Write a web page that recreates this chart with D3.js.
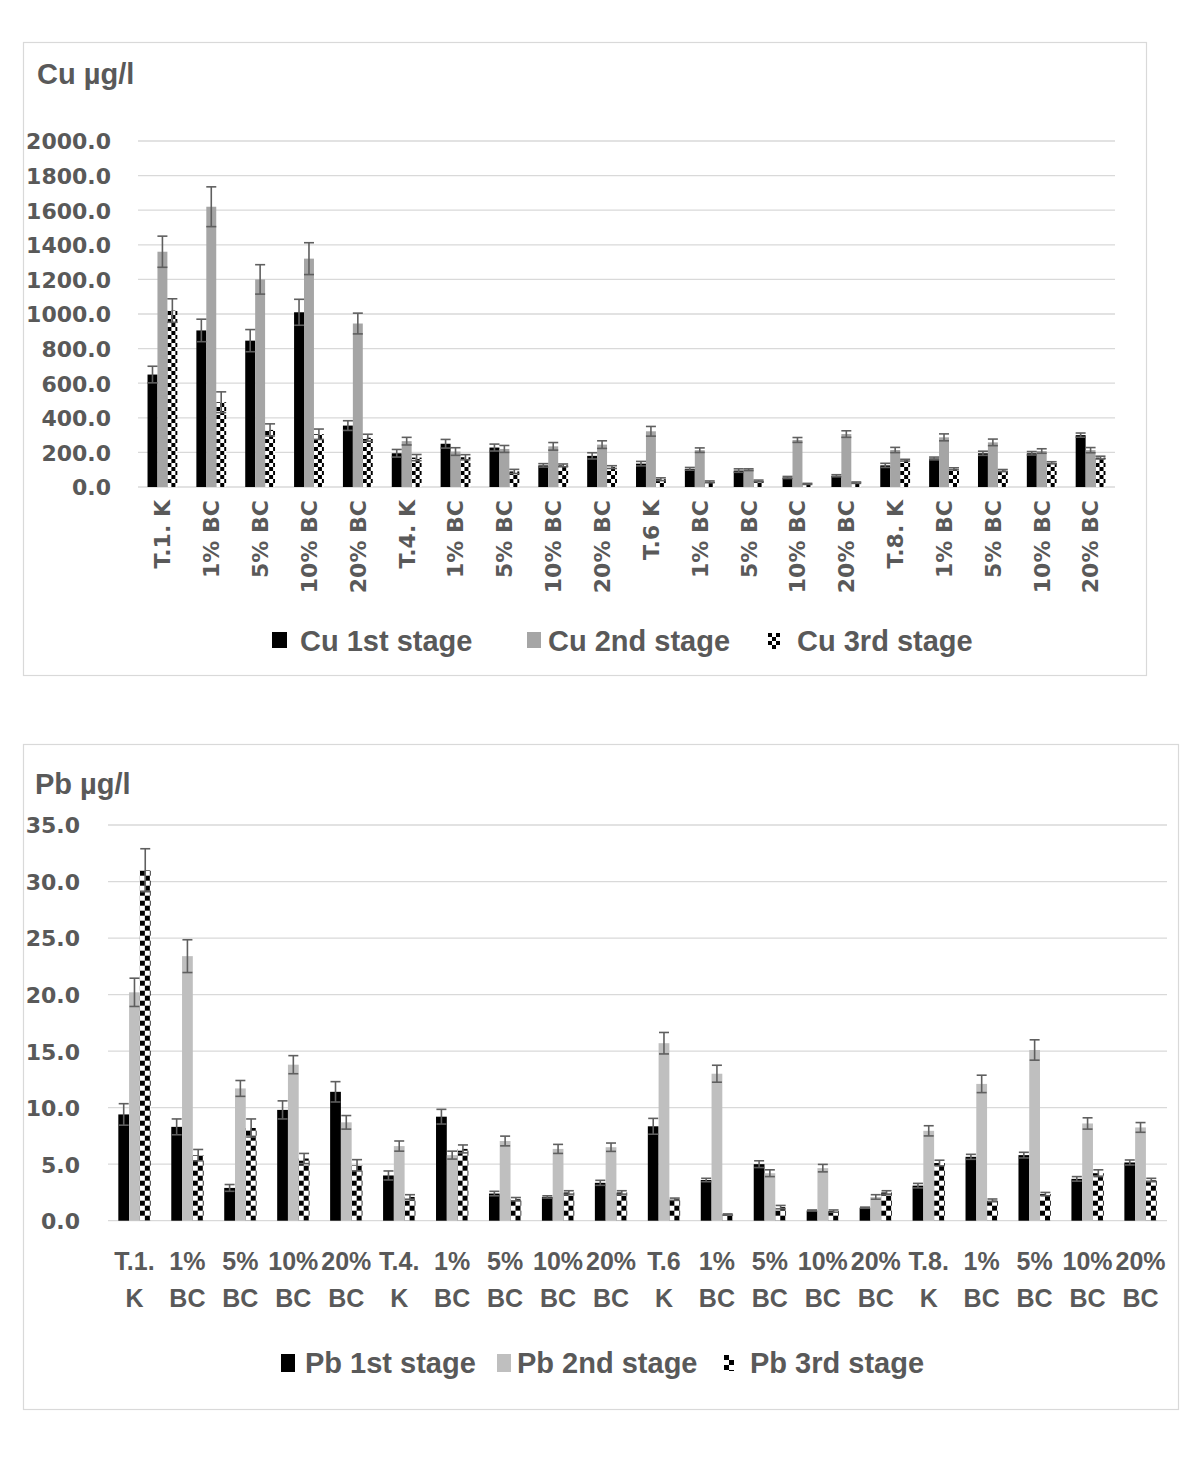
<!DOCTYPE html>
<html><head><meta charset="utf-8">
<script src="https://cdn.jsdelivr.net/npm/d3@7"></script>
<style>body{margin:0;background:#fff} svg{display:block}</style>
</head><body><svg id="c" width="1180" height="1461"></svg>
<script>
// ---------- DATA ----------
const cuCategories = ["T.1. K","1% BC","5% BC","10% BC","20% BC","T.4. K","1% BC","5% BC","10% BC","20% BC","T.6 K","1% BC","5% BC","10% BC","20% BC","T.8. K","1% BC","5% BC","10% BC","20% BC"];
const cuStage1    = [650,905,846,1010,355,195,250,228,125,180,135,105,95,55,65,125,165,195,195,300];
const cuStage1Err = [48,65,64,75,28,22,25,20,10,18,13,8,10,6,6,12,8,12,10,12];
const cuStage2    = [1360,1620,1200,1320,945,265,205,220,235,245,322,213,100,272,306,214,287,258,208,213];
const cuStage2Err = [90,115,85,92,60,22,22,20,22,22,28,13,5,14,19,15,20,19,13,15];
const cuStage3    = [1020,490,330,305,285,170,172,90,125,115,45,30,35,18,25,155,105,95,140,170];
const cuStage3Err = [68,60,35,30,20,18,15,12,8,8,8,5,5,3,4,5,6,6,6,8];
const cuTicks = [0,200,400,600,800,1000,1200,1400,1600,1800,2000];
const cuSeriesNames = ["Cu 1st stage","Cu 2nd stage","Cu 3rd stage"];

const pbCatLine1 = ["T.1.","1%","5%","10%","20%","T.4.","1%","5%","10%","20%","T.6","1%","5%","10%","20%","T.8.","1%","5%","10%","20%"];
const pbCatLine2 = ["K","BC","BC","BC","BC","K","BC","BC","BC","BC","K","BC","BC","BC","BC","K","BC","BC","BC","BC"];
const pbStage1    = [9.4,8.3,2.9,9.8,11.4,4.0,9.2,2.4,2.1,3.35,8.35,3.6,5.0,0.9,1.15,3.1,5.65,5.8,3.7,5.15];
const pbStage1Err = [0.95,0.7,0.3,0.8,0.9,0.4,0.65,0.2,0.1,0.22,0.7,0.15,0.3,0.05,0.05,0.2,0.22,0.25,0.2,0.22];
const pbStage2    = [20.2,23.4,11.7,13.8,8.7,6.6,5.8,7.05,6.35,6.5,15.7,13.0,4.2,4.65,2.1,7.95,12.1,15.1,8.6,8.25];
const pbStage2Err = [1.25,1.45,0.7,0.8,0.6,0.45,0.35,0.43,0.4,0.37,0.95,0.75,0.3,0.33,0.2,0.45,0.77,0.9,0.5,0.43];
const pbStage3    = [31.0,5.8,8.2,5.5,4.9,2.1,6.35,1.9,2.5,2.5,1.9,0.55,1.2,0.85,2.5,5.1,1.8,2.35,4.2,3.6];
const pbStage3Err = [1.9,0.5,0.8,0.45,0.5,0.2,0.35,0.15,0.15,0.15,0.1,0.05,0.15,0.1,0.15,0.25,0.12,0.15,0.3,0.15];
const pbTicks = [0,5,10,15,20,25,30,35];
const pbSeriesNames = ["Pb 1st stage","Pb 2nd stage","Pb 3rd stage"];

// ---------- DRAW ----------
const svg = d3.select("#c");
const TXT = "#595959", GRID = "#d9d9d9", ERR = "#5f5f5f";
const defs = svg.append("defs");
function checker(id, c) {
  const p = defs.append("pattern").attr("id", id).attr("patternUnits","userSpaceOnUse")
    .attr("width", 2*c).attr("height", 2*c);
  p.append("rect").attr("width",2*c).attr("height",2*c).attr("fill","#fff");
  p.append("rect").attr("width",c).attr("height",c).attr("fill","#000");
  p.append("rect").attr("x",c).attr("y",c).attr("width",c).attr("height",c).attr("fill","#000");
}
checker("chkCu", 4);
checker("chkPb", 5);

function drawChart(o) {
  // frame
  svg.append("rect").attr("x",o.frame[0]).attr("y",o.frame[1]).attr("width",o.frame[2]).attr("height",o.frame[3])
    .attr("fill","none").attr("stroke",GRID).attr("stroke-width",1.2);
  // title
  svg.append("text").attr("x",o.titleX).attr("y",o.titleY).text(o.title)
    .attr("font-family","'Liberation Sans', Arial, sans-serif").attr("font-weight","bold")
    .attr("font-size",29).attr("fill",TXT);

  const y = d3.scaleLinear().domain([0, o.ymax]).range([o.y0, o.y1]);
  const x0 = d3.scaleBand().domain(d3.range(o.values[0].length)).range([o.xL, o.xR]).paddingInner(0.39).paddingOuter(0.195);
  const x1 = d3.scaleBand().domain([0,1,2]).range([0, x0.bandwidth()]);

  // grid
  const g = svg.append("g");
  g.selectAll("line.grid").data(o.ticks).join("line")
    .attr("x1",o.xL).attr("x2",o.xR).attr("y1",d=>y(d)).attr("y2",d=>y(d))
    .attr("stroke",GRID).attr("stroke-width",1.3);
  // y axis labels via d3 axis
  const ax = svg.append("g").attr("transform",`translate(${o.tickX},0)`)
    .call(d3.axisLeft(y).tickValues(o.ticks).tickFormat(d3.format(".1f")).tickSize(0).tickPadding(0));
  ax.select(".domain").remove();
  ax.selectAll("text").attr("font-family","'DejaVu Sans', Verdana, sans-serif").attr("font-weight","bold")
    .attr("font-size",22).attr("fill",TXT).attr("dy","0.36em");

  // bars
  o.values.forEach((ser, si) => {
    const grp = svg.append("g");
    ser.forEach((v, i) => {
      const bx = x0(i) + x1(si), bw = x1.bandwidth();
      const bg = grp.append("g").attr("transform", `translate(${bx},${y(0)})`);
      bg.append("rect").attr("x",0).attr("y", y(v)-y(0)).attr("width", bw).attr("height", y(0)-y(v))
        .attr("fill", o.fills[si]);
    });
  });
  // error bars
  o.values.forEach((ser, si) => {
    const eg = svg.append("g").attr("stroke",ERR).attr("stroke-width",1.6);
    ser.forEach((v, i) => {
      const e = o.errs[si][i];
      const cx = x0(i) + x1(si) + x1.bandwidth()/2;
      const yt = y(v+e), yb = y(Math.max(0, v-e));
      eg.append("line").attr("x1",cx).attr("x2",cx).attr("y1",yt).attr("y2",yb);
      eg.append("line").attr("x1",cx-5).attr("x2",cx+5).attr("y1",yt).attr("y2",yt);
      eg.append("line").attr("x1",cx-5).attr("x2",cx+5).attr("y1",yb).attr("y2",yb);
    });
  });
  return {x0};
}

// ----- Cu chart -----
const cu = drawChart({
  frame:[23.5,42.5,1123,633], title:"Cu µg/l", titleX:37, titleY:84,
  ymax:2000, y0:487, y1:141, xL:138, xR:1115, ticks:cuTicks, tickX:111,
  values:[cuStage1,cuStage2,cuStage3], errs:[cuStage1Err,cuStage2Err,cuStage3Err],
  fills:["#000","#a5a5a5","url(#chkCu)"]
});
svg.append("g").selectAll("text").data(cuCategories).join("text")
  .attr("transform",(d,i)=>`translate(${cu.x0(i)+cu.x0.bandwidth()/2},500) rotate(-90)`)
  .attr("text-anchor","end").attr("dy","0.36em")
  .attr("font-family","'DejaVu Sans', Verdana, sans-serif").attr("font-weight","bold")
  .attr("font-size",22).attr("fill",TXT).text(d=>d);

function legend(names, fills, syms, baseY) {
  const lg = svg.append("g");
  names.forEach((n, i) => {
    const s = syms[i];
    lg.append("g").attr("transform",`translate(${s[0]},${s[1]})`)
      .append("rect").attr("width",s[2]).attr("height",s[3]).attr("fill",fills[i]);
    lg.append("text").attr("x",s[4]).attr("y",baseY).text(n)
      .attr("font-family","'Liberation Sans', Arial, sans-serif").attr("font-weight","bold")
      .attr("font-size",29).attr("fill",TXT);
  });
}
legend(cuSeriesNames, ["#000","#a5a5a5","url(#chkCu)"],
  [[272,632,15,16,300],[527,632,14,16,548],[768,633,12,16,797]], 651);

// ----- Pb chart -----
const pb = drawChart({
  frame:[23.5,744.5,1155,665], title:"Pb µg/l", titleX:35, titleY:794,
  ymax:35, y0:1220.7, y1:825, xL:108, xR:1167, ticks:pbTicks, tickX:80,
  values:[pbStage1,pbStage2,pbStage3], errs:[pbStage1Err,pbStage2Err,pbStage3Err],
  fills:["#000","#bfbfbf","url(#chkPb)"]
});
const pbl = svg.append("g").attr("font-family","'Liberation Sans', Arial, sans-serif").attr("font-weight","bold")
  .attr("font-size",25).attr("fill",TXT).attr("text-anchor","middle");
pbl.selectAll("text.l1").data(pbCatLine1).join("text").attr("class","l1")
  .attr("x",(d,i)=>pb.x0(i)+pb.x0.bandwidth()/2).attr("y",1270).text(d=>d);
pbl.selectAll("text.l2").data(pbCatLine2).join("text").attr("class","l2")
  .attr("x",(d,i)=>pb.x0(i)+pb.x0.bandwidth()/2).attr("y",1307).text(d=>d);
legend(pbSeriesNames, ["#000","#bfbfbf","url(#chkPb)"],
  [[281,1354,14,18,305],[497,1354,14,18,517],[724,1355,10,16,750]], 1373);
</script></body></html>
